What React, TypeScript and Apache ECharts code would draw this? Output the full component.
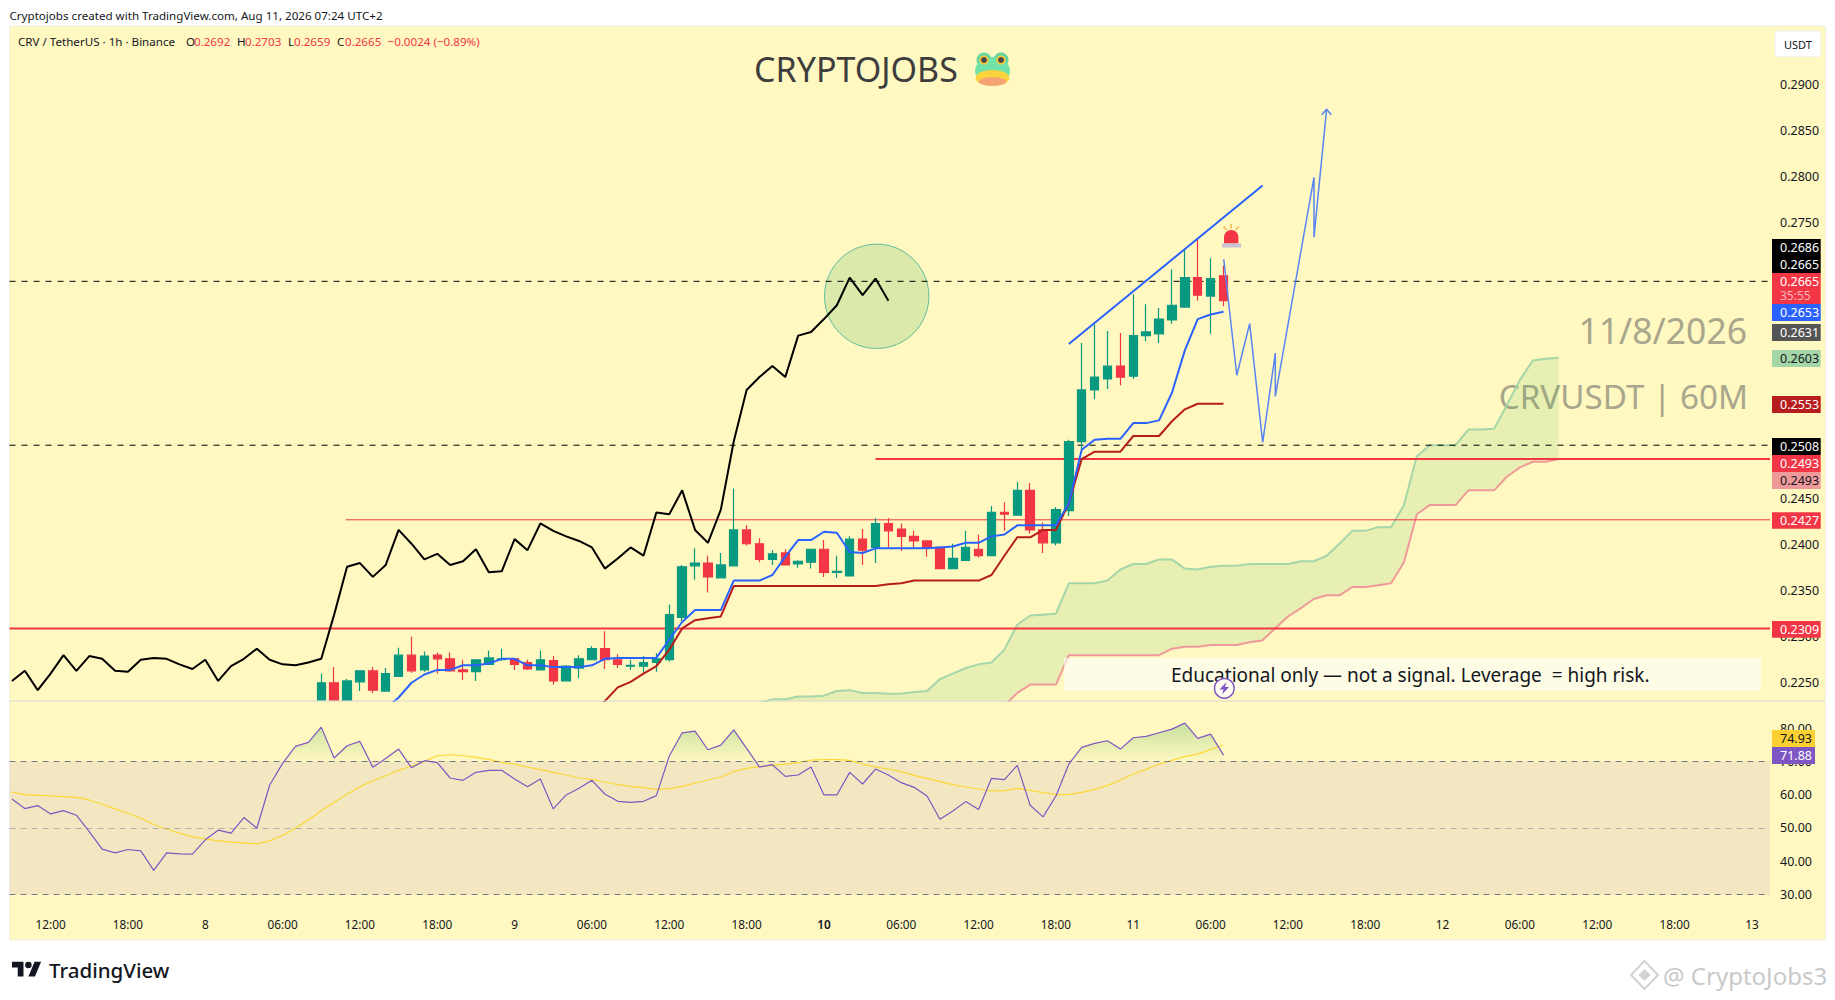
import React, { useEffect, useRef } from "react";
import * as echarts from "echarts";

// Hours are counted from Aug 7 09:00 (hour 0).
const candleStart = 24;
const opens = [0.2231,0.2250,0.2231,0.2251,0.2263,0.2241,0.2257,0.2280,0.2264,0.2280,0.2276,0.2264,0.2262,0.2270,0.2275,0.2276,0.2272,0.2264,0.2274,0.2252,0.2266,0.2275,0.2287,0.2275,0.2268,0.2268,0.2272,0.2275,0.2321,0.2377,0.2380,0.2364,0.2377,0.2416,0.2401,0.2384,0.2391,0.2379,0.2381,0.2395,0.2370,0.2366,0.2406,0.2397,0.2423,0.2417,0.2409,0.2404,0.2397,0.2374,0.2383,0.2395,0.2388,0.2435,0.2432,0.2459,0.2416,0.2402,0.2437,0.2512,0.2568,0.2580,0.2594,0.2583,0.2627,0.2629,0.2644,0.2658,0.2690,0.2670,0.2692];
const closes = [0.2250,0.2231,0.2252,0.2263,0.2242,0.2260,0.2280,0.2263,0.2279,0.2276,0.2263,0.2262,0.2275,0.2277,0.2276,0.2270,0.2265,0.2275,0.2252,0.2268,0.2276,0.2287,0.2275,0.2270,0.2269,0.2272,0.2276,0.2324,0.2376,0.2380,0.2365,0.2378,0.2416,0.2401,0.2384,0.2390,0.2378,0.2382,0.2395,0.2370,0.2371,0.2406,0.2394,0.2423,0.2415,0.2409,0.2404,0.2397,0.2374,0.2385,0.2397,0.2388,0.2435,0.2433,0.2459,0.2416,0.2402,0.2438,0.2512,0.2568,0.2582,0.2594,0.2582,0.2627,0.2631,0.2645,0.2660,0.2690,0.2671,0.2689,0.2665];
const lows = [0.2231,0.2231,0.2231,0.2241,0.2239,0.2241,0.2257,0.2261,0.2262,0.2260,0.2262,0.2253,0.2252,0.2270,0.2274,0.2264,0.2264,0.2264,0.2248,0.2252,0.2255,0.2275,0.2265,0.2266,0.2264,0.2261,0.2262,0.2273,0.2317,0.2362,0.2348,0.2364,0.2377,0.2399,0.2381,0.2378,0.2378,0.2375,0.2374,0.2365,0.2364,0.2366,0.2378,0.2380,0.2397,0.2393,0.2397,0.2387,0.2374,0.2374,0.2383,0.2386,0.2388,0.2415,0.2432,0.2412,0.2391,0.2399,0.2431,0.2503,0.2558,0.2569,0.2573,0.2580,0.2621,0.2619,0.2640,0.2658,0.2665,0.2629,0.2659];
const highs = [0.2260,0.2267,0.2254,0.2263,0.2267,0.2266,0.2288,0.2300,0.2284,0.2283,0.2283,0.2275,0.2275,0.2285,0.2287,0.2276,0.2275,0.2285,0.2279,0.2269,0.2280,0.2290,0.2306,0.2281,0.2275,0.2279,0.2282,0.2335,0.2378,0.2396,0.2388,0.2391,0.2461,0.2421,0.2407,0.2394,0.2395,0.2383,0.2395,0.2405,0.2388,0.2409,0.2417,0.2429,0.2429,0.2423,0.2415,0.2404,0.2397,0.2401,0.2415,0.2411,0.2442,0.2446,0.2468,0.2467,0.2424,0.2441,0.2514,0.2619,0.2639,0.2632,0.2630,0.2672,0.2661,0.2657,0.2699,0.2720,0.2732,0.2711,0.2703];

const conversionStart = 29;
const conversion = [0.2222,0.2234,0.2250,0.2259,0.2264,0.2264,0.2269,0.2269,0.2271,0.2276,0.2276,0.2269,0.2269,0.2267,0.2267,0.2267,0.2269,0.2276,0.2277,0.2277,0.2277,0.2277,0.2297,0.2316,0.2329,0.2329,0.2329,0.2361,0.2361,0.2361,0.2367,0.2387,0.2405,0.2405,0.2414,0.2413,0.2392,0.2391,0.2396,0.2396,0.2396,0.2396,0.2396,0.2397,0.2398,0.2402,0.2402,0.2409,0.2411,0.2421,0.2421,0.2421,0.2421,0.2445,0.2503,0.2514,0.2515,0.2515,0.2532,0.2532,0.2535,0.2565,0.2611,0.2645,0.2650,0.2653];
const baseStart = 45;
const baseLine = [0.2217,0.2230,0.2245,0.2251,0.2260,0.2268,0.2286,0.2309,0.2318,0.2320,0.2322,0.2355,0.2355,0.2355,0.2355,0.2355,0.2355,0.2355,0.2355,0.2355,0.2355,0.2355,0.2355,0.2357,0.2358,0.2361,0.2361,0.2361,0.2361,0.2361,0.2361,0.2367,0.2388,0.2408,0.2408,0.2416,0.2416,0.2445,0.2493,0.2501,0.2501,0.2501,0.2518,0.2518,0.2518,0.2534,0.2547,0.2553,0.2553,0.2553];

const cloudStart = 58;
const leadingA = [0.2228,0.2232,0.2232,0.2235,0.2235,0.2236,0.2241,0.2242,0.2239,0.2239,0.2238,0.2238,0.2240,0.2241,0.2254,0.2260,0.2266,0.2270,0.2272,0.2286,0.2313,0.2323,0.2324,0.2325,0.2358,0.2358,0.2358,0.2361,0.2373,0.2379,0.2379,0.2384,0.2384,0.2374,0.2373,0.2376,0.2377,0.2377,0.2379,0.2379,0.2379,0.2379,0.2382,0.2382,0.2388,0.2401,0.2415,0.2415,0.2419,0.2419,0.2443,0.2496,0.2508,0.2508,0.2508,0.2525,0.2525,0.2526,0.2552,0.2579,0.2600,0.2602,0.2603];
const leadingB = [0.2190,0.2190,0.2190,0.2190,0.2190,0.2190,0.2195,0.2195,0.2195,0.2195,0.2195,0.2195,0.2195,0.2200,0.2200,0.2200,0.2200,0.2205,0.2215,0.2225,0.2239,0.2248,0.2248,0.2248,0.2280,0.2280,0.2280,0.2280,0.2280,0.2280,0.2280,0.2280,0.2287,0.2289,0.2289,0.2291,0.2291,0.2291,0.2294,0.2296,0.2309,0.2322,0.2331,0.2341,0.2345,0.2345,0.2354,0.2354,0.2356,0.2358,0.2381,0.2433,0.2443,0.2443,0.2443,0.2459,0.2459,0.2459,0.2474,0.2484,0.2490,0.2490,0.2493];

const rsiValues = [58.7,55.8,56.7,54.2,55.2,53.8,48.9,43.6,42.5,43.5,43.1,37.2,42.5,42.2,42.1,46.4,49.3,48.4,53.1,49.9,62.9,69.4,74.5,75.7,80.3,71.0,74.7,76.0,68.2,70.9,73.7,68.1,70.2,69.6,65.0,64.3,66.7,67.3,67.3,64.7,62.4,64.7,55.7,59.9,61.9,64.3,60.2,58.0,57.7,58.0,59.7,71.6,78.6,79.1,73.5,74.9,79.5,73.9,68.3,69.0,65.5,65.9,68.3,59.9,59.9,66.7,63.2,67.7,65.9,63.6,62.2,59.6,52.6,55.1,57.9,55.5,64.9,64.5,68.8,56.8,53.3,59.6,69.2,74.2,75.4,76.2,73.7,77.1,77.5,78.6,79.7,81.5,76.9,78.2,71.88];
const rsiAverage = [60.8,60.0,59.8,59.6,59.4,59.2,58.4,57.1,55.7,54.4,52.9,51.0,49.6,48.4,47.3,46.7,46.1,45.7,45.5,45.2,46.1,47.7,49.9,52.4,55.2,57.7,60.1,62.4,64.1,65.7,67.3,68.6,70.0,71.7,72.0,71.7,71.2,70.6,69.7,69.1,68.3,67.5,66.7,65.9,65.0,64.6,63.8,63.0,62.5,62.1,61.6,61.8,62.5,63.5,64.4,65.3,66.9,67.9,68.4,68.8,69.2,69.6,70.4,70.5,70.5,70.3,69.2,68.3,67.7,66.9,65.8,64.9,63.9,63.0,62.3,61.7,61.1,61.2,61.9,61.3,60.6,60.0,60.1,60.7,61.6,62.8,64.4,66.2,67.6,69.2,70.3,71.5,72.2,73.6,74.93];

const trendHours = [82, 97.03];
const trendPrices = [0.2618, 0.2790];
const projectionHours = [94.02, 95.03, 96.03, 97.04, 98.02, 98.02, 101.02, 101.02, 102.0];
const projectionPrices = [0.2710, 0.2584, 0.2640, 0.2511, 0.2608, 0.2561, 0.2799, 0.2734, 0.2873];
const arrowHours = [101.62, 102.0, 102.36];
const arrowPrices = [0.2867, 0.2873, 0.2867];

const priceTicks = [0.29, 0.285, 0.28, 0.275, 0.245, 0.24, 0.235, 0.23, 0.225];
const rsiTicks = [80, 70, 60, 50, 40, 30];
const timeTickHours = [3,9,15,21,27,33,39,45,51,57,63,69,75,81,87,93,99,105,111,117,123,129,135];
const timeTickLabels = ["12:00","18:00","8","06:00","12:00","18:00","9","06:00","12:00","18:00","10","06:00","12:00","18:00","11","06:00","12:00","18:00","12","06:00","12:00","18:00","13"];

const FONT = '"Noto Sans", sans-serif';
const X_MIN = -0.185;
const X_MAX = 136.4;
const UP = "#089981";
const DOWN = "#f23645";
const BG = "#fff8c1";

const xy = (start: number, arr: number[]) => arr.map((v, i) => [start + i, v]);
const zip = (a: number[], b: number[]) => a.map((v, i) => [v, b[i]]);

const line = (name: string, data: number[][], color: string, width: number, extra: any = {}) => ({
  name, type: "line", data, symbol: "none", silent: true, xAxisIndex: 0, yAxisIndex: 0,
  lineStyle: { color, width }, z: 4, ...extra,
});

const txt = (text: string, x: number, y: number, size: number, fill: string, extra: any = {}, z = 60) => ({
  type: "text", x, y, z, silent: true,
  style: { text, fill, fontFamily: FONT, fontSize: size, textAlign: "left", textVerticalAlign: "middle", ...extra },
});

const tag = (y0: number, y1: number, bg: string, text: string, fg = "#ffffff", right = 1820.7) => [
  { type: "rect", z: 50, silent: true, shape: { x: 1772, y: y0, width: right - 1772, height: y1 - y0 }, style: { fill: bg } },
  txt(text, 1780, (y0 + y1) / 2, 12.5, fg),
];

const headerParts: [string, number, string][] = [
  ["CRV / TetherUS · 1h · Binance", 18, "#131722"],
  ["O", 186, "#131722"], ["0.2692", 194, DOWN],
  ["H", 237, "#131722"], ["0.2703", 245, DOWN],
  ["L", 288, "#131722"], ["0.2659", 294, DOWN],
  ["C", 337, "#131722"], ["0.2665", 345, DOWN],
  ["−0.0024 (−0.89%)", 387.5, DOWN],
];

function buildOption() {
  const graphic: any[] = [
    { type: "rect", z: 0, silent: true, shape: { x: 9.5, y: 26, width: 1816, height: 914 }, style: { fill: BG, stroke: "#efefe8", lineWidth: 1 } },
    { type: "line", z: 45, silent: true, shape: { x1: 9.5, y1: 701, x2: 1825, y2: 701 }, style: { stroke: "#d8d8d4", lineWidth: 1 } },
    txt("Cryptojobs created with TradingView.com, Aug 11, 2026 07:24 UTC+2", 9.5, 15, 11.6, "#131722"),
    ...headerParts.map(([t, x, c]) => txt(t, x, 41.7, 11.6, c)),
    txt("CRYPTOJOBS", 754, 69, 34, "#3d3d3d"),
    // frog
    { type: "group", z: 60, silent: true, children: [
      { type: "circle", shape: { cx: 984, cy: 60, r: 7.5 }, style: { fill: "#66d69e" } },
      { type: "circle", shape: { cx: 1001, cy: 60, r: 7.5 }, style: { fill: "#66d69e" } },
      { type: "ellipse", shape: { cx: 992.5, cy: 71, rx: 17.5, ry: 14 }, style: { fill: "#72e3a8" } },
      { type: "ellipse", shape: { cx: 992.5, cy: 78, rx: 17, ry: 8 }, style: { fill: "#fcd33f" } },
      { type: "ellipse", shape: { cx: 992.5, cy: 81.5, rx: 14, ry: 4.3 }, style: { fill: "#f5a276" } },
      { type: "circle", shape: { cx: 984, cy: 60, r: 4.6 }, style: { fill: "#f9c83a" } },
      { type: "circle", shape: { cx: 1001, cy: 60, r: 4.6 }, style: { fill: "#f9c83a" } },
      { type: "circle", shape: { cx: 984, cy: 60, r: 3 }, style: { fill: "#4a4a4a" } },
      { type: "circle", shape: { cx: 1001, cy: 60, r: 3 }, style: { fill: "#4a4a4a" } },
    ] },
    // green circle drawing
    { type: "circle", z: 1, silent: true, shape: { cx: 876.7, cy: 296.3, r: 52.2 }, style: { fill: "rgba(76,175,80,0.2)", stroke: "#5fbf9b", lineWidth: 1 } },
    // watermark texts
    txt("11/8/2026", 1747, 330, 35.5, "#a8a68c", { textAlign: "right" }, 1),
    txt("CRVUSDT | 60M", 1748, 396.5, 33.2, "#a8a68c", { textAlign: "right" }, 1),
    // siren
    { type: "group", z: 60, silent: true, children: [
      { type: "rect", shape: { x: 1224, y: 230, width: 14.4, height: 13.5, r: [7, 7, 1, 1] }, style: { fill: "#f23645" } },
      { type: "rect", shape: { x: 1222, y: 243.5, width: 19, height: 4 }, style: { fill: "#c9c3d6" } },
      { type: "line", shape: { x1: 1231, y1: 224, x2: 1231, y2: 229 }, style: { stroke: "#f6c96c", lineWidth: 2 } },
      { type: "line", shape: { x1: 1223.5, y1: 226.5, x2: 1227, y2: 230 }, style: { stroke: "#f6c96c", lineWidth: 2 } },
      { type: "line", shape: { x1: 1239, y1: 226.5, x2: 1235.5, y2: 230 }, style: { stroke: "#f6c96c", lineWidth: 2 } },
    ] },
    // disclaimer
    { type: "rect", z: 40, silent: true, shape: { x: 1064, y: 658, width: 697, height: 32.7 }, style: { fill: "rgba(255,255,255,0.6)" } },
    txt("Educational only — not a signal. Leverage  = high risk.", 1171, 675, 19, "#131722", {}, 41),
    // lightning badge
    { type: "circle", z: 55, silent: true, shape: { cx: 1224.3, cy: 688.3, r: 9.8 }, style: { fill: "#fffdf0", stroke: "#7e57c2", lineWidth: 1.5 } },
    { type: "polygon", z: 56, silent: true, shape: { points: [[1226.5,682],[1219.5,689.5],[1223.5,689.5],[1222,694.5],[1229,687],[1225,687]] }, style: { fill: "#7e57c2" } },
    // USDT button
    { type: "rect", z: 50, silent: true, shape: { x: 1775, y: 31, width: 45.7, height: 25.7, r: 3 }, style: { fill: "#ffffff", stroke: "#f0f0f0", lineWidth: 1 } },
    txt("USDT", 1784, 44.5, 11, "#131722"),
    // price tags
    ...tag(239, 256, "#000000", "0.2686"),
    ...tag(256, 273, "#000000", "0.2665"),
    { type: "rect", z: 50, silent: true, shape: { x: 1772, y: 273, width: 48.7, height: 31 }, style: { fill: DOWN } },
    txt("0.2665", 1780, 281.7, 12.5, "#ffffff"),
    txt("35:55", 1780, 295.7, 12, "#fbb6bb"),
    ...tag(304, 321, "#2962ff", "0.2653"),
    ...tag(324, 341, "#555555", "0.2631"),
    ...tag(350, 367, "#a5d6a7", "0.2603", "#131722"),
    ...tag(396, 413, "#b71c1c", "0.2553"),
    ...tag(438, 455, "#000000", "0.2508"),
    ...tag(455, 472, DOWN, "0.2493"),
    ...tag(472, 489, "#ef9a9a", "0.2493", "#131722"),
    ...tag(512.3, 528.7, DOWN, "0.2427"),
    ...tag(621, 637.7, DOWN, "0.2309"),
    ...tag(730, 747, "#fdd032", "74.93", "#131722", 1815),
    ...tag(747, 764, "#7e57c2", "71.88", "#ffffff", 1815),
    // TradingView logo
    { type: "tvLogo", z: 60, silent: true, x: 12, y: 958.5, scaleX: 0.82, scaleY: 0.82, style: { fill: "#131722" } },
    txt("TradingView", 49, 969.5, 20.5, "#131722", { fontWeight: 500 }),
    // bottom-right mark
    { type: "polygon", z: 60, silent: true, shape: { points: [[1644.5,961],[1658,975],[1644.5,989],[1631,975]] }, style: { fill: "none", stroke: "#d2d2d2", lineWidth: 2 } },
    { type: "polygon", z: 60, silent: true, shape: { points: [[1644.5,969],[1650.5,975],[1644.5,981],[1638.5,975]] }, style: { fill: "#d2d2d2" } },
    txt("@ CryptoJobs3", 1663, 975, 24, "#c9c9c9"),
  ];

  const candleData = opens.map((o, i) => [candleStart + i, o, closes[i], lows[i], highs[i]]);
  const rsiAbove = rsiValues.map((v) => Math.max(v, 70));

  return {
    animation: false,
    backgroundColor: "#ffffff",
    textStyle: { fontFamily: FONT },
    graphic: { elements: graphic },
    grid: [
      { left: 9.55, top: 26, width: 1760.45, height: 675, containLabel: false },
      { left: 9.55, top: 702, width: 1760.45, height: 210, containLabel: false },
    ],
    xAxis: [
      { type: "value", gridIndex: 0, min: X_MIN, max: X_MAX, show: false, splitLine: { show: false } },
      {
        type: "value", gridIndex: 1, min: X_MIN, max: X_MAX,
        axisLine: { show: false }, axisTick: { show: false }, splitLine: { show: false },
        axisLabel: {
          customValues: timeTickHours, margin: 6, fontSize: 11.8, color: "#131722", fontFamily: FONT,
          hideOverlap: false,
          formatter: (v: number) => {
            const s = timeTickLabels[timeTickHours.indexOf(v)] ?? "";
            return s === "10" ? "{b|10}" : s;
          },
          rich: { b: { fontSize: 11.8, fontWeight: 600, color: "#131722", fontFamily: FONT } },
        },
      },
    ],
    yAxis: [
      {
        type: "value", gridIndex: 0, position: "right", min: 0.22302, max: 0.29633, scale: true,
        axisLine: { show: false }, axisTick: { show: false }, splitLine: { show: false },
        axisLabel: { customValues: priceTicks, margin: 10, fontSize: 12.5, color: "#131722", fontFamily: FONT, hideOverlap: false, formatter: (v: number) => v.toFixed(4) },
      },
      {
        type: "value", gridIndex: 1, position: "right", min: 24.7, max: 87.86, scale: true,
        axisLine: { show: false }, axisTick: { show: false }, splitLine: { show: false },
        axisLabel: { customValues: rsiTicks, margin: 10, fontSize: 12.5, color: "#131722", fontFamily: FONT, hideOverlap: false, formatter: (v: number) => v.toFixed(2) },
      },
    ],
    series: [
      {
        name: "cloud", type: "custom", xAxisIndex: 0, yAxisIndex: 0, silent: true, z: 2, clip: true,
        data: [[cloudStart, leadingA[0]]],
        encode: { x: 0, y: 1 },
        renderItem: (_p: any, api: any) => {
          const upper = leadingA.map((v, i) => api.coord([cloudStart + i, v]));
          const lower = leadingB.map((v, i) => api.coord([cloudStart + i, v])).reverse();
          return { type: "polygon", shape: { points: [...upper, ...lower] }, style: { fill: "rgba(76,175,80,0.13)" } };
        },
      },
      line("leading A", xy(cloudStart, leadingA), "#a5d6a7", 2, { z: 3 }),
      line("leading B", xy(cloudStart, leadingB), "#ef9a9a", 2, { z: 3 }),
      line("level 0.2686", [[X_MIN, 0.2686], [X_MAX, 0.2686]], "#000000", 1, { lineStyle: { color: "#000000", width: 1, type: [6, 6] } }),
      line("level 0.2508", [[X_MIN, 0.2508], [X_MAX, 0.2508]], "#000000", 1, { lineStyle: { color: "#000000", width: 1, type: [6, 6] } }),
      line("level 0.2493", [[67, 0.2493], [X_MAX, 0.2493]], DOWN, 2),
      line("level 0.2427", [[25.9, 0.2427], [X_MAX, 0.2427]], DOWN, 1),
      line("level 0.2309", [[X_MIN, 0.2309], [X_MAX, 0.2309]], DOWN, 2),
      line("lagging", xy(0, closes.slice(2)), "#000000", 2, { z: 5 }),
      {
        name: "CRV", type: "candlestick", xAxisIndex: 0, yAxisIndex: 0, data: candleData, silent: true,
        encode: { x: 0, y: [1, 2, 3, 4] }, barWidth: 9, z: 6,
        itemStyle: { color: UP, color0: DOWN, borderColor: UP, borderColor0: DOWN, borderWidth: 1.2 },
      },
      line("base", xy(baseStart, baseLine), "#b71c1c", 2, { z: 7 }),
      line("conversion", xy(conversionStart, conversion), "#2962ff", 2, { z: 7 }),
      line("trend", zip(trendHours, trendPrices), "#2962ff", 2, { z: 8 }),
      line("projection", zip(projectionHours, projectionPrices), "#5a84f5", 1.5, { z: 8 }),
      line("arrow", zip(arrowHours, arrowPrices), "#5a84f5", 1.5, { z: 8 }),
      {
        name: "RSI zone", type: "line", xAxisIndex: 1, yAxisIndex: 1, data: xy(0, rsiAbove), symbol: "none", silent: true, z: 3,
        lineStyle: { opacity: 0, width: 0 },
        areaStyle: {
          origin: 70,
          color: new echarts.graphic.LinearGradient(0, 0, 0, 1, [
            { offset: 0, color: "rgba(76,175,80,0.45)" },
            { offset: 1, color: "rgba(76,175,80,0)" },
          ]),
        },
        markArea: {
          silent: true, z: 1, itemStyle: { color: "rgba(126,87,194,0.1)" },
          data: [[{ xAxis: X_MIN, yAxis: 70 }, { xAxis: X_MAX, yAxis: 30 }]],
        },
        markLine: {
          silent: true, symbol: "none", label: { show: false },
          data: [
            { yAxis: 70, lineStyle: { color: "#787b86", width: 1, type: [6, 5] } },
            { yAxis: 50, lineStyle: { color: "#b4aeaa", width: 1, type: [6, 5] } },
            { yAxis: 30, lineStyle: { color: "#787b86", width: 1, type: [6, 5] } },
          ],
        },
      },
      { name: "RSI MA", type: "line", xAxisIndex: 1, yAxisIndex: 1, data: xy(0, rsiAverage), symbol: "none", silent: true, z: 4, lineStyle: { color: "#fdd835", width: 1.2 } },
      { name: "RSI", type: "line", xAxisIndex: 1, yAxisIndex: 1, data: xy(0, rsiValues), symbol: "none", silent: true, z: 5, lineStyle: { color: "#7e57c2", width: 1.2 } },
    ],
  };
}

export default function App() {
  const ref = useRef<HTMLDivElement>(null);
  useEffect(() => {
    document.body.style.margin = "0";
    echarts.graphic.registerShape(
      "tvLogo",
      echarts.graphic.extendPath("M14 22H7V11H0V4h14v18zM28 22h-8l7.5-18h8L28 22zM24 8a4 4 0 1 1-8 0 4 4 0 0 1 8 0z", {}) as any,
    );
    const chart = echarts.init(ref.current!, undefined, { renderer: "svg" });
    chart.setOption(buildOption() as any);
    return () => chart.dispose();
  }, []);
  return <div ref={ref} style={{ width: 1835, height: 1000 }} />;
}
